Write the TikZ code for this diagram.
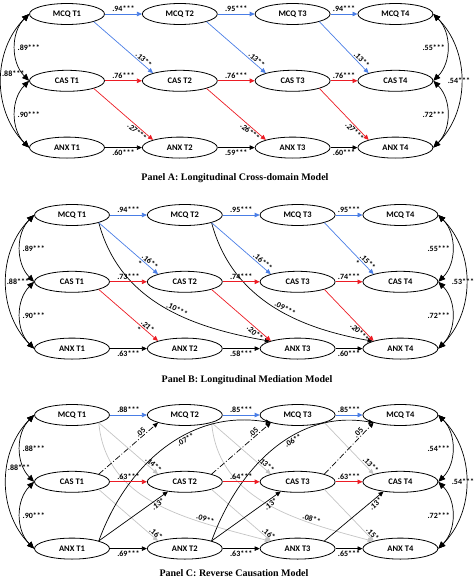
\documentclass[tikz,border=0pt]{standalone}
\usepackage{fontspec}
\setmainfont{Liberation Serif}
\newfontfamily\calfont{Carlito}
\usepackage{tikz}
\usetikzlibrary{arrows.meta,positioning,shapes.geometric}
\definecolor{pathblue}{HTML}{4A7EE6}
\definecolor{pathred}{HTML}{EC1C24}
\definecolor{pathgray}{HTML}{C4C4C4}

\begin{document}
\begin{tikzpicture}[
  x=1pt,y=-1pt,
  node distance=45pt and 37pt,
  var/.style={draw,ellipse,line width=0.8pt,minimum width=75pt,minimum height=21pt,inner sep=0pt,font=\calfont\bfseries\fontsize{8.5}{10}\selectfont},
  coef/.style={font=\calfont\bfseries\fontsize{8}{8.5}\selectfont,inner sep=1pt,align=left},
  arr/.style={-{Triangle[length=5pt,width=4.5pt]},line width=0.7pt},
  bluearr/.style={arr,draw=pathblue},
  redarr/.style={arr,draw=pathred},
  blackarr/.style={arr,draw=black},
  grayarr/.style={arr,draw=pathgray},
  dasharr/.style={arr,draw=black,dash pattern=on 6pt off 2pt on 1pt off 2pt},
  cov/.style={{Triangle[length=7pt,width=6pt]}-{Triangle[length=7pt,width=6pt]},line width=0.7pt},
  caption/.style={font=\bfseries\fontsize{10}{12}\selectfont}
]
\useasboundingbox (0,0) rectangle (474,578);

% Panel A
\node[var] (mcqA1) at (67,14) {MCQ T1};
\node[var,right=of mcqA1] (mcqA2) {MCQ T2};
\node[var,right=of mcqA2] (mcqA3) {MCQ T3};
\node[var,right=27pt of mcqA3] (mcqA4) {MCQ T4};
\node[var,below=of mcqA1] (casA1) {CAS T1};
\node[var,below=of mcqA2] (casA2) {CAS T2};
\node[var,below=of mcqA3] (casA3) {CAS T3};
\node[var,below=of mcqA4] (casA4) {CAS T4};
\node[var,below=of casA1] (anxA1) {ANX T1};
\node[var,below=of casA2] (anxA2) {ANX T2};
\node[var,below=of casA3] (anxA3) {ANX T3};
\node[var,below=of casA4] (anxA4) {ANX T4};

\draw[bluearr] (mcqA1) -- node[coef,above=1pt] {.94***} (mcqA2);
\draw[bluearr] (mcqA2) -- node[coef,above=1pt] {.95***} (mcqA3);
\draw[bluearr] (mcqA3) -- node[coef,above=1pt] {.94***} (mcqA4);
\draw[bluearr] (mcqA1.south east) -- node[coef,pos=.8,sloped,above] {.13**} (casA2.north west);
\draw[bluearr] (mcqA2.south east) -- node[coef,pos=.8,sloped,above] {.13**} (casA3.north west);
\draw[bluearr] (mcqA3.south east) -- node[coef,pos=.8,sloped,above] {.13**} (casA4.north west);
\draw[redarr] (casA1) -- node[coef,above=1pt] {.76***} (casA2);
\draw[redarr] (casA2) -- node[coef,above=1pt] {.76***} (casA3);
\draw[redarr] (casA3) -- node[coef,above=1pt] {.76***} (casA4);
\draw[redarr] (casA1.south east) -- node[coef,pos=.78,sloped,below] {.27***} (anxA2.north west);
\draw[redarr] (casA2.south east) -- node[coef,pos=.78,sloped,below] {.26***} (anxA3.north west);
\draw[redarr] (casA3.south east) -- node[coef,pos=.78,sloped,below] {.27***} (anxA4.north west);
\draw[blackarr] (anxA1) -- node[coef,below=1pt] {.60***} (anxA2);
\draw[blackarr] (anxA2) -- node[coef,below=1pt] {.59***} (anxA3);
\draw[blackarr] (anxA3) -- node[coef,below=1pt] {.60***} (anxA4);

\draw[cov] (mcqA1.west) to[out=225,in=135] node[coef,right=1pt] {.89***} (casA1.west);
\draw[cov] (casA1.west) to[out=225,in=135] node[coef,right=1pt] {.90***} (anxA1.west);
\draw[cov] (mcqA1.west) to[out=225,in=135] node[coef,pos=.45,right=-1pt] {.88***} (anxA1.west);
\draw[cov] (mcqA4.east) to[out=-45,in=45] node[coef,left=1pt] {.55***} (casA4.east);
\draw[cov] (casA4.east) to[out=-45,in=45] node[coef,left=1pt] {.72***} (anxA4.east);
\draw[cov] (mcqA4.east) to[out=-45,in=45] node[coef,xshift=-2pt] {.54***} (anxA4.east);

\node[caption] (capA) at (235,178) {Panel A: Longitudinal Cross-domain Model};

% Panel B
\node[var] (mcqB1) at (72,215) {MCQ T1};
\node[var,right=of mcqB1] (mcqB2) {MCQ T2};
\node[var,right=of mcqB2] (mcqB3) {MCQ T3};
\node[var,right=27pt of mcqB3] (mcqB4) {MCQ T4};
\node[var,below=of mcqB1] (casB1) {CAS T1};
\node[var,below=of mcqB2] (casB2) {CAS T2};
\node[var,below=of mcqB3] (casB3) {CAS T3};
\node[var,below=of mcqB4] (casB4) {CAS T4};
\node[var,below=of casB1] (anxB1) {ANX T1};
\node[var,below=of casB2] (anxB2) {ANX T2};
\node[var,below=of casB3] (anxB3) {ANX T3};
\node[var,below=of casB4] (anxB4) {ANX T4};

\draw[blackarr] (mcqB1.south east) to[out=-75,in=170] node[coef,pos=.57,sloped,above] {.10***} (anxB3.165);
\draw[blackarr] (mcqB2.south east) to[out=-75,in=170] node[coef,pos=.57,sloped,above] {.09***} (anxB4.165);
\draw[bluearr] (mcqB1) -- node[coef,above=1pt] {.94***} (mcqB2);
\draw[bluearr] (mcqB2) -- node[coef,above=1pt] {.95***} (mcqB3);
\draw[bluearr] (mcqB3) -- node[coef,above=1pt] {.95***} (mcqB4);
\draw[bluearr] (mcqB1.south east) -- node[coef,pos=.82,sloped] {.16**\\*} (casB2.north west);
\draw[bluearr] (mcqB2.south east) -- node[coef,pos=.82,sloped,above] {.16***} (casB3.north west);
\draw[bluearr] (mcqB3.south east) -- node[coef,pos=.82,sloped] {.15**\\*} (casB4.north west);
\draw[redarr] (casB1) -- node[coef,above=1pt] {.73***} (casB2);
\draw[redarr] (casB2) -- node[coef,above=1pt] {.74***} (casB3);
\draw[redarr] (casB3) -- node[coef,above=1pt] {.74***} (casB4);
\draw[redarr] (casB1.south east) -- node[coef,pos=.78,sloped] {.21*\\*} (anxB2.north west);
\draw[redarr] (casB2.south east) -- node[coef,pos=.78,sloped,below] {.20**} (anxB3.north west);
\draw[redarr] (casB3.south east) -- node[coef,pos=.78,sloped,below] {.20***} (anxB4.north west);
\draw[blackarr] (anxB1) -- node[coef,below=1pt] {.63***} (anxB2);
\draw[blackarr] (anxB2) -- node[coef,below=1pt] {.58***} (anxB3);
\draw[blackarr] (anxB3) -- node[coef,below=1pt] {.60***} (anxB4);

\draw[cov] (mcqB1.west) to[out=225,in=135] node[coef,right=1pt] {.89***} (casB1.west);
\draw[cov] (casB1.west) to[out=225,in=135] node[coef,right=1pt] {.90***} (anxB1.west);
\draw[cov] (mcqB1.west) to[out=225,in=135] node[coef,pos=.5,right=-1pt] {.88***} (anxB1.west);
\draw[cov] (mcqB4.east) to[out=-45,in=45] node[coef,left=1pt] {.55***} (casB4.east);
\draw[cov] (casB4.east) to[out=-45,in=45] node[coef,left=1pt] {.72***} (anxB4.east);
\draw[cov] (mcqB4.east) to[out=-45,in=45] node[coef,xshift=-3pt] {.53***} (anxB4.east);

\node[caption] (capB) at (247,380) {Panel B: Longitudinal Mediation Model};

% Panel C
\node[var] (mcqC1) at (72,415) {MCQ T1};
\node[var,right=of mcqC1] (mcqC2) {MCQ T2};
\node[var,right=of mcqC2] (mcqC3) {MCQ T3};
\node[var,right=27pt of mcqC3] (mcqC4) {MCQ T4};
\node[var,below=of mcqC1] (casC1) {CAS T1};
\node[var,below=of mcqC2] (casC2) {CAS T2};
\node[var,below=of mcqC3] (casC3) {CAS T3};
\node[var,below=of mcqC4] (casC4) {CAS T4};
\node[var,below=of casC1] (anxC1) {ANX T1};
\node[var,below=of casC2] (anxC2) {ANX T2};
\node[var,below=of casC3] (anxC3) {ANX T3};
\node[var,below=of casC4] (anxC4) {ANX T4};

% grey paths behind
\draw[grayarr] (mcqC1.south east) to[out=-85,in=165] node[coef,pos=.72,sloped,above] {.09**} (anxC3.165);
\draw[grayarr] (mcqC2.south east) to[out=-85,in=165] node[coef,pos=.72,sloped,above] {.08**} (anxC4.165);
\draw[grayarr] (mcqC1.south east) -- node[coef,pos=.88,sloped,above] {.14**} (casC2.north west);
\draw[grayarr] (mcqC2.south east) -- node[coef,pos=.88,sloped,above] {.13**} (casC3.north west);
\draw[grayarr] (mcqC3.south east) -- node[coef,pos=.88,sloped,above] {.13**} (casC4.north west);
\draw[grayarr] (casC1.south east) -- node[coef,pos=.92,sloped,above] {.16*} (anxC2.north west);
\draw[grayarr] (casC2.south east) -- node[coef,pos=.92,sloped,above] {.16*} (anxC3.north west);
\draw[grayarr] (casC3.south east) -- node[coef,pos=.92,sloped,above] {.15*} (anxC4.north west);

\draw[blackarr] (anxC1.north east) to[out=70,in=170] node[coef,pos=.6,sloped,below] {.07**} (mcqC3.south west);
\draw[blackarr] (anxC2.north east) to[out=70,in=170] node[coef,pos=.6,sloped,below] {.06**} (mcqC4.south west);
\draw[dasharr] (casC1.north east) -- node[coef,pos=.75,sloped,above] {.05} (mcqC2.south west);
\draw[dasharr] (casC2.north east) -- node[coef,pos=.75,sloped,above] {.05} (mcqC3.south west);
\draw[dasharr] (casC3.north east) -- node[coef,pos=.75,sloped,above] {.05} (mcqC4.south west);
\draw[blackarr] (anxC1.north east) -- node[coef,pos=.82,sloped,below] {.13*} (casC2.210);
\draw[blackarr] (anxC2.north east) -- node[coef,pos=.82,sloped,below] {.13*} (casC3.210);
\draw[blackarr] (anxC3.north east) -- node[coef,pos=.82,sloped,below] {.13*} (casC4.210);
\draw[bluearr] (mcqC1) -- node[coef,above=1pt] {.88***} (mcqC2);
\draw[bluearr] (mcqC2) -- node[coef,above=1pt] {.85***} (mcqC3);
\draw[bluearr] (mcqC3) -- node[coef,above=1pt] {.85***} (mcqC4);
\draw[redarr] (casC1) -- node[coef,above=1pt] {.63***} (casC2);
\draw[redarr] (casC2) -- node[coef,above=1pt] {.64***} (casC3);
\draw[redarr] (casC3) -- node[coef,above=1pt] {.63***} (casC4);
\draw[blackarr] (anxC1) -- node[coef,below=1pt] {.69***} (anxC2);
\draw[blackarr] (anxC2) -- node[coef,below=1pt] {.63***} (anxC3);
\draw[blackarr] (anxC3) -- node[coef,below=1pt] {.65***} (anxC4);

\draw[cov] (mcqC1.west) to[out=225,in=135] node[coef,right=1pt] {.88***} (casC1.west);
\draw[cov] (casC1.west) to[out=225,in=135] node[coef,right=1pt] {.90***} (anxC1.west);
\draw[cov] (mcqC1.west) to[out=225,in=135] node[coef,pos=.4,right=-1pt] {.88***} (anxC1.west);
\draw[cov] (mcqC4.east) to[out=-45,in=45] node[coef,left=1pt] {.54***} (casC4.east);
\draw[cov] (casC4.east) to[out=-45,in=45] node[coef,left=1pt] {.72***} (anxC4.east);
\draw[cov] (mcqC4.east) to[out=-45,in=45] node[coef,xshift=-3pt] {.54***} (anxC4.east);

\node[caption] (capC) at (234,573) {Panel C: Reverse Causation Model};
\end{tikzpicture}
\end{document}
